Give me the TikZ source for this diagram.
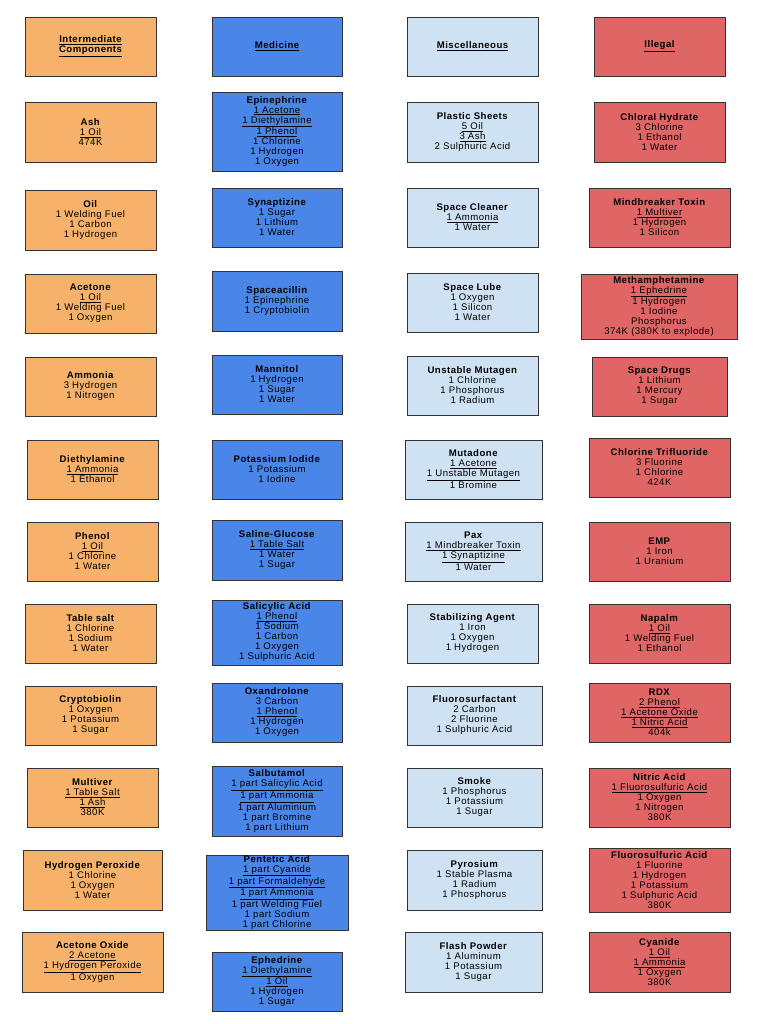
\documentclass[tikz,border=0pt]{standalone}
\usepackage{fontspec}
\setmainfont{Liberation Sans}
\definecolor{cora}{HTML}{F6B26B}
\definecolor{cblu}{HTML}{4A86E8}
\definecolor{clig}{HTML}{CFE2F3}
\definecolor{cred}{HTML}{E06666}
\newcommand\uln[1]{\underline{#1}}
\newcommand\hd[1]{\textbf{#1}}
\tikzset{box/.style={draw=black!80, line width=0.8pt, align=center, inner sep=0pt, font=\fontsize{9.6}{10}\selectfont\addfontfeatures{LetterSpace=5}}}
\newcommand\bx[7]{\node[box, fill=#6, minimum width={(#4-#2)*1pt}, minimum height={(#5-#3)*1pt}] (#1) at ({(#2+#4)/2},{-(#3+#5)/2}) {#7};}
\begin{document}
\begin{tikzpicture}[x=1pt,y=1pt]
\useasboundingbox (0,0) rectangle (768,-1024);
% column 1
\bx{h1}{25}{17}{156}{76}{cora}{\hd{\uln{Intermediate}}\\\hd{\uln{Components}}}
\bx{ash}{25}{102}{156}{162}{cora}{\hd{Ash}\\\uln{1 Oil}\\474K}
\bx{oil}{25}{190}{156}{250}{cora}{\hd{Oil}\\1 Welding Fuel\\1 Carbon\\1 Hydrogen}
\bx{acet}{25}{274}{156}{333}{cora}{\hd{Acetone}\\\uln{1 Oil}\\1 Welding Fuel\\1 Oxygen}
\bx{ammo}{25}{357}{156}{416}{cora}{\hd{Ammonia}\\3 Hydrogen\\1 Nitrogen}
\bx{diet}{27}{440}{158}{499}{cora}{\hd{Diethylamine}\\\uln{1 Ammonia}\\1 Ethanol}
\bx{phen}{27}{522}{158}{581}{cora}{\hd{Phenol}\\\uln{1 Oil}\\1 Chlorine\\1 Water}
\bx{salt}{25}{604}{156}{663}{cora}{\hd{Table salt}\\1 Chlorine\\1 Sodium\\1 Water}
\bx{cryp}{25}{686}{156}{745}{cora}{\hd{Cryptobiolin}\\1 Oxygen\\1 Potassium\\1 Sugar}
\bx{mult}{27}{768}{158}{827}{cora}{\hd{Multiver}\\\uln{1 Table Salt}\\\uln{1 Ash}\\380K}
\bx{hper}{23}{850}{162}{910}{cora}{\hd{Hydrogen Peroxide}\\1 Chlorine\\1 Oxygen\\1 Water}
\bx{aoxi}{22}{932}{163}{992}{cora}{\hd{Acetone Oxide}\\\uln{2 Acetone}\\\uln{1 Hydrogen Peroxide}\\1 Oxygen}
% column 2
\bx{h2}{212}{17}{342}{76}{cblu}{\hd{\uln{Medicine}}}
\bx{epin}{212}{92}{342}{171}{cblu}{\hd{Epinephrine}\\\uln{1 Acetone}\\\uln{1 Diethylamine}\\\uln{1 Phenol}\\1 Chlorine\\1 Hydrogen\\1 Oxygen}
\bx{syna}{212}{188}{342}{247}{cblu}{\hd{Synaptizine}\\1 Sugar\\1 Lithium\\1 Water}
\bx{spac}{212}{271}{342}{331}{cblu}{\hd{Spaceacillin}\\1 Epinephrine\\1 Cryptobiolin}
\bx{mann}{212}{355}{342}{414}{cblu}{\hd{Mannitol}\\1 Hydrogen\\1 Sugar\\1 Water}
\bx{pota}{212}{440}{342}{499}{cblu}{\hd{Potassium Iodide}\\1 Potassium\\1 Iodine}
\bx{sali}{212}{520}{342}{580}{cblu}{\hd{Saline-Glucose}\\\uln{1 Table Salt}\\1 Water\\1 Sugar}
\bx{salc}{212}{600}{342}{665}{cblu}{\hd{Salicylic Acid}\\\uln{1 Phenol}\\1 Sodium\\1 Carbon\\1 Oxygen\\1 Sulphuric Acid}
\bx{oxan}{212}{683}{342}{742}{cblu}{\hd{Oxandrolone}\\3 Carbon\\\uln{1 Phenol}\\1 Hydrogen\\1 Oxygen}
\bx{salb}{212}{766}{342}{836}{cblu}{\hd{Salbutamol}\\\uln{1 part Salicylic Acid}\\\uln{1 part Ammonia}\\1 part Aluminium\\1 part Bromine\\1 part Lithium}
\bx{pent}{206}{855}{348}{930}{cblu}{\hd{Pentetic Acid}\\\uln{1 part Cyanide}\\\uln{1 part Formaldehyde}\\\uln{1 part Ammonia}\\1 part Welding Fuel\\1 part Sodium\\1 part Chlorine}
\bx{ephe}{212}{952}{342}{1011}{cblu}{\hd{Ephedrine}\\\uln{1 Diethylamine}\\\uln{1 Oil}\\1 Hydrogen\\1 Sugar}
% column 3
\bx{h3}{407}{17}{538}{76}{clig}{\hd{\uln{Miscellaneous}}}
\bx{plas}{407}{102}{538}{162}{clig}{\hd{Plastic Sheets}\\\uln{5 Oil}\\\uln{3 Ash}\\2 Sulphuric Acid}
\bx{clea}{407}{188}{538}{247}{clig}{\hd{Space Cleaner}\\\uln{1 Ammonia}\\1 Water}
\bx{lube}{407}{273}{538}{332}{clig}{\hd{Space Lube}\\1 Oxygen\\1 Silicon\\1 Water}
\bx{unst}{407}{356}{538}{415}{clig}{\hd{Unstable Mutagen}\\1 Chlorine\\1 Phosphorus\\1 Radium}
\bx{muta}{405}{440}{542}{499}{clig}{\hd{Mutadone}\\\uln{1 Acetone}\\\uln{1 Unstable Mutagen}\\1 Bromine}
\bx{pax}{405}{522}{542}{581}{clig}{\hd{Pax}\\\uln{1 Mindbreaker Toxin}\\\uln{1 Synaptizine}\\1 Water}
\bx{stab}{407}{604}{538}{663}{clig}{\hd{Stabilizing Agent}\\1 Iron\\1 Oxygen\\1 Hydrogen}
\bx{fluo}{407}{686}{542}{745}{clig}{\hd{Fluorosurfactant}\\2 Carbon\\2 Fluorine\\1 Sulphuric Acid}
\bx{smok}{407}{768}{542}{827}{clig}{\hd{Smoke}\\1 Phosphorus\\1 Potassium\\1 Sugar}
\bx{pyro}{407}{850}{542}{910}{clig}{\hd{Pyrosium}\\1 Stable Plasma\\1 Radium\\1 Phosphorus}
\bx{flas}{405}{932}{542}{992}{clig}{\hd{Flash Powder}\\1 Aluminum\\1 Potassium\\1 Sugar}
% column 4
\bx{h4}{594}{17}{725}{76}{cred}{\hd{\uln{Illegal}}}
\bx{chlo}{594}{102}{725}{162}{cred}{\hd{Chloral Hydrate}\\3 Chlorine\\1 Ethanol\\1 Water}
\bx{mind}{589}{188}{730}{247}{cred}{\hd{Mindbreaker Toxin}\\\uln{1 Multiver}\\1 Hydrogen\\1 Silicon}
\bx{meth}{581}{274}{737}{339}{cred}{\hd{Methamphetamine}\\\uln{1 Ephedrine}\\1 Hydrogen\\1 Iodine\\Phosphorus\\374K (380K to explode)}
\bx{drug}{592}{357}{727}{416}{cred}{\hd{Space Drugs}\\1 Lithium\\1 Mercury\\1 Sugar}
\bx{ctri}{589}{438}{730}{497}{cred}{\hd{Chlorine Trifluoride}\\3 Fluorine\\1 Chlorine\\424K}
\bx{emp}{589}{522}{730}{581}{cred}{\hd{EMP}\\1 Iron\\1 Uranium}
\bx{napa}{589}{604}{730}{663}{cred}{\hd{Napalm}\\\uln{1 Oil}\\1 Welding Fuel\\1 Ethanol}
\bx{rdx}{589}{683}{730}{742}{cred}{\hd{RDX}\\\uln{2 Phenol}\\\uln{1 Acetone Oxide}\\\uln{1 Nitric Acid}\\404k}
\bx{nitr}{589}{768}{730}{827}{cred}{\hd{Nitric Acid}\\\uln{1 Fluorosulfuric Acid}\\1 Oxygen\\1 Nitrogen\\380K}
\bx{fsul}{589}{848}{730}{912}{cred}{\hd{Fluorosulfuric Acid}\\1 Fluorine\\1 Hydrogen\\1  Potassium\\1 Sulphuric Acid\\380K}
\bx{cyan}{589}{932}{730}{992}{cred}{\hd{Cyanide}\\\uln{1 Oil}\\\uln{1 Ammonia}\\1 Oxygen\\380K}
\end{tikzpicture}
\end{document}
